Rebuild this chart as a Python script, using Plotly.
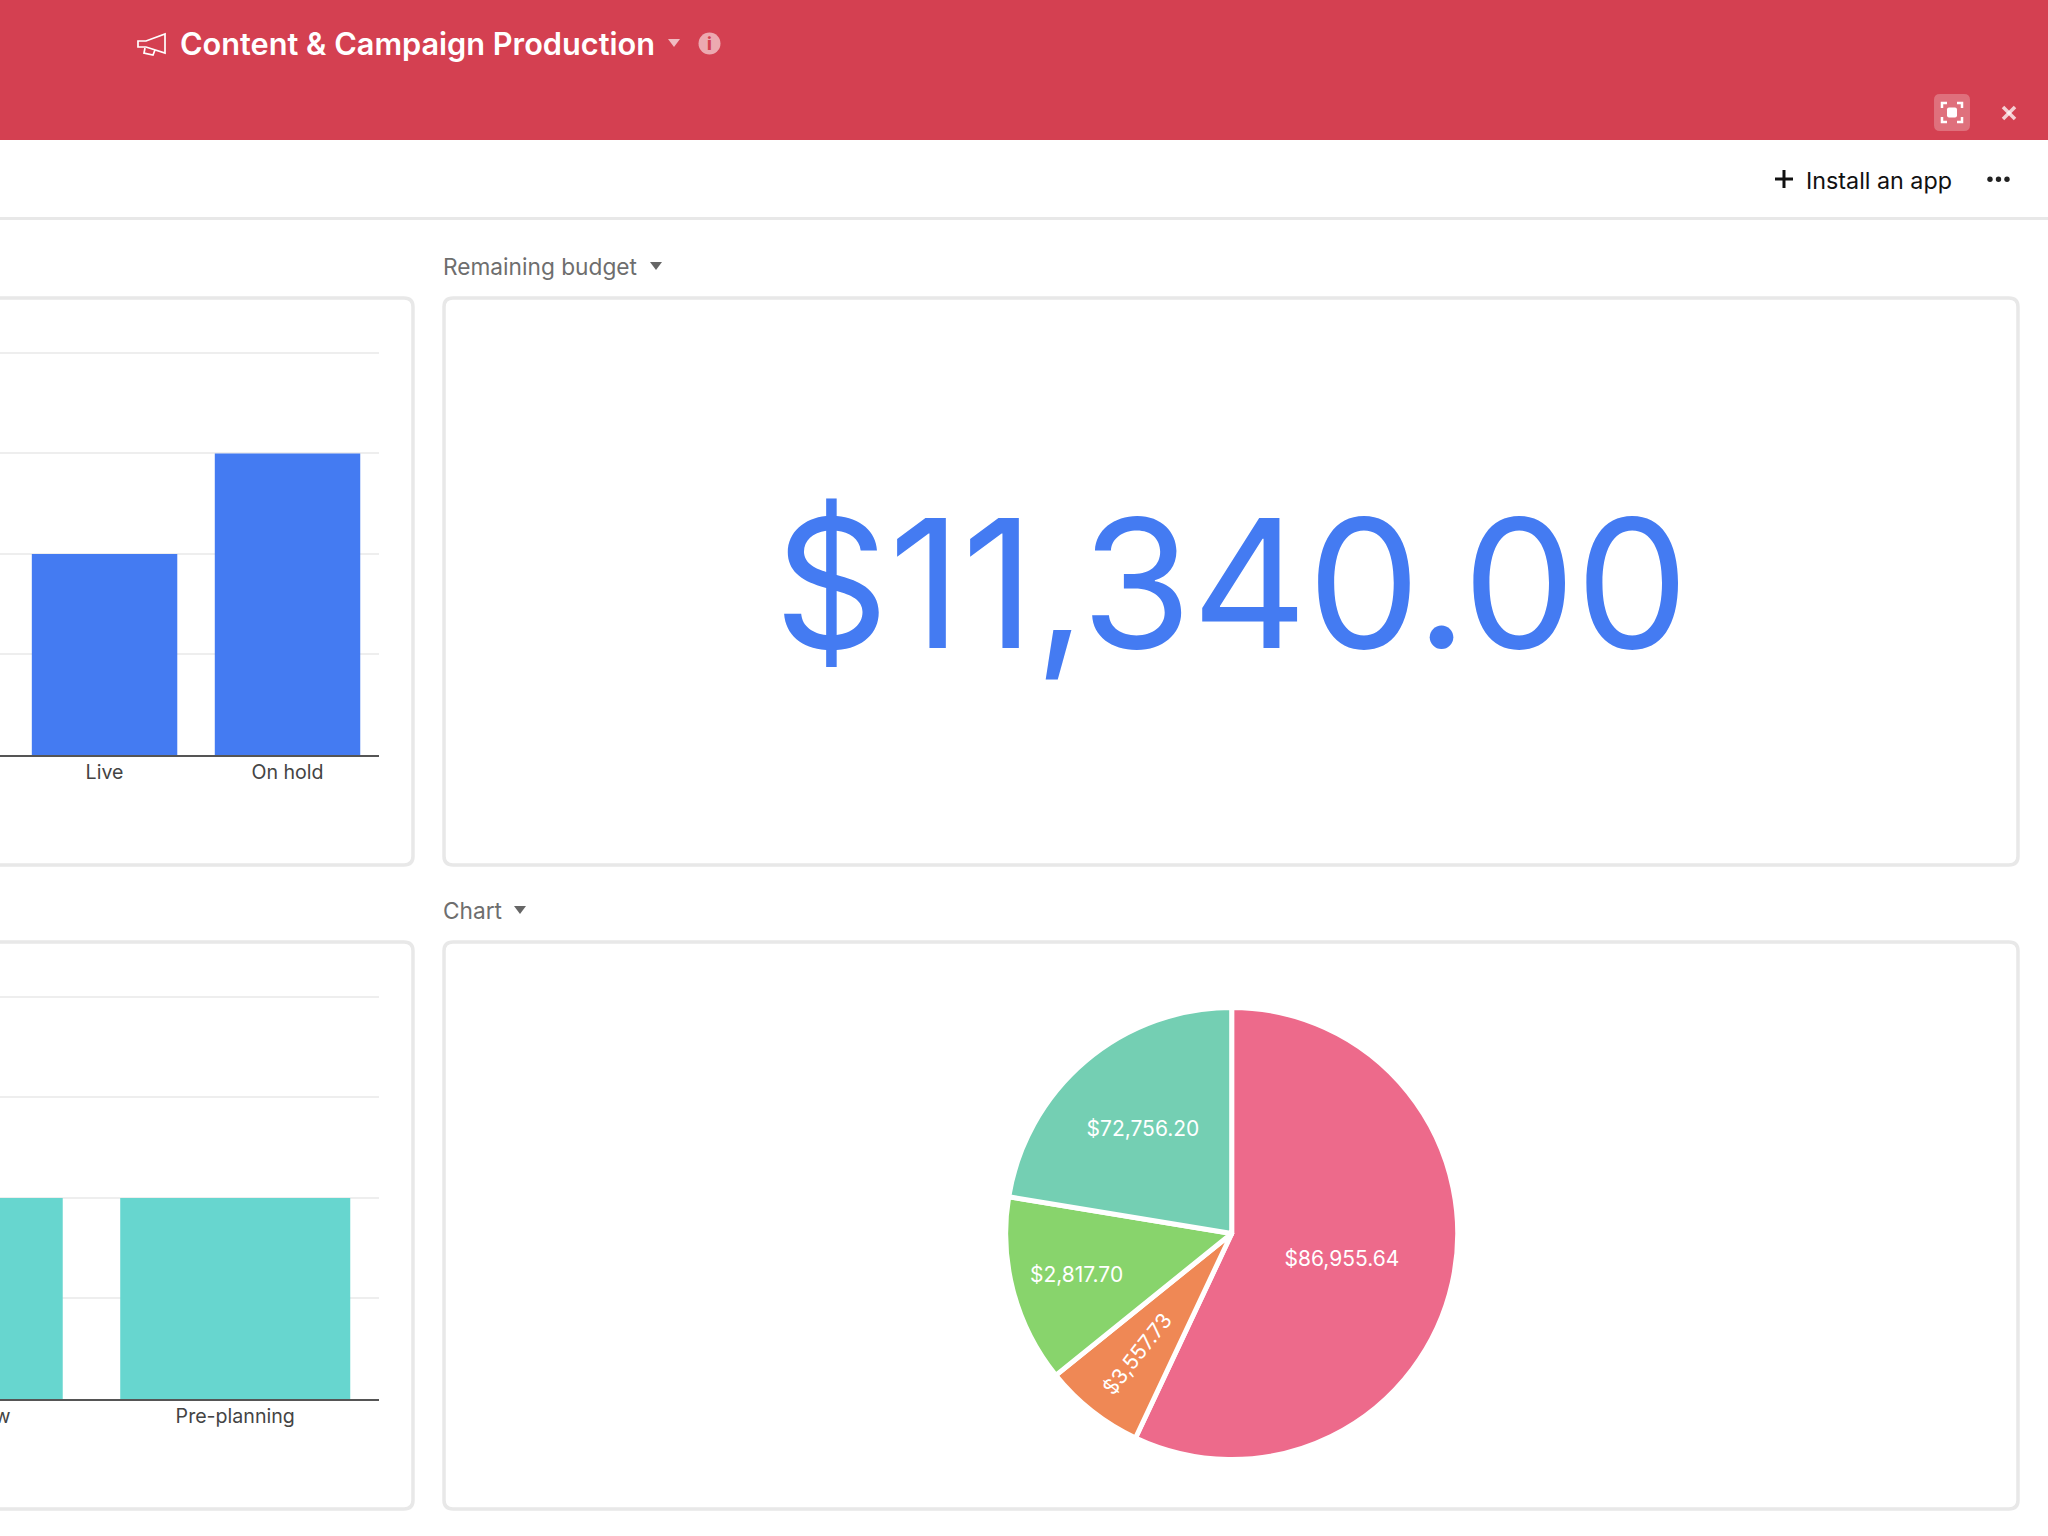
import plotly.graph_objects as go

# ---------- data ----------
status_categories = ["Live", "On hold"]
status_values = [2, 3]
phase_categories = ["Under review", "Pre-planning"]
phase_values = [2, 2]
remaining_budget = 11340.00
pie_labels = ["$86,955.64", "$3,557.73", "$2,817.70", "$72,756.20"]
pie_shares = [57.0, 7.2, 13.4, 22.4]
pie_colors = ["#ED6A8B", "#EF8855", "#88D46C", "#74CFB3"]
y_ticks = [0, 1, 2, 3, 4]

W, H = 2048, 1536
FONT = "Inter"
def px(x): return x / W
def py(y): return 1 - y / H

fig = go.Figure()

# ---------- bars ----------
fig.add_trace(go.Bar(x=[0, 1], y=status_values, marker=dict(color="#447BF2", line_width=0),
                     width=0.795, xaxis="x", yaxis="y", showlegend=False))
fig.add_trace(go.Bar(x=[0, 1], y=phase_values, marker=dict(color="#67D6CF", line_width=0),
                     width=0.8, xaxis="x2", yaxis="y2", showlegend=False))

# ---------- pie (horizontal labels, then radial label for the narrow slice) ----------
cx, cy, r = 1231.7, 1233.5, 226
dom = dict(x=[px(cx - r), px(cx + r)], y=[py(cy + r), py(cy - r)])
fig.add_trace(go.Pie(values=pie_shares, sort=False, direction="clockwise", rotation=0, domain=dom,
                     marker=dict(colors=pie_colors, line=dict(color="white", width=5)),
                     text=[t if i != 1 else "" for i, t in enumerate(pie_labels)],
                     textinfo="text", textposition="inside", insidetextorientation="horizontal",
                     textfont=dict(family=FONT, size=21, color="white"), showlegend=False))
fig.add_trace(go.Pie(values=pie_shares, sort=False, direction="clockwise", rotation=0, domain=dom,
                     marker=dict(colors=["rgba(0,0,0,0)"] * 4, line=dict(color="rgba(0,0,0,0)", width=0)),
                     text=[t if i == 1 else "" for i, t in enumerate(pie_labels)],
                     textinfo="text", textposition="inside", insidetextorientation="radial",
                     textfont=dict(family=FONT, size=21, color="white"), showlegend=False))

def xaxis(domain, rng, vals, text):
    return dict(domain=domain, range=rng, tickmode="array", tickvals=vals, ticktext=text,
                showgrid=False, zeroline=False, showline=True, linecolor="#555555", linewidth=2,
                ticks="", tickfont=dict(family=FONT, size=19.6, color="#444444"), fixedrange=True,
                ticklabelstandoff=-2)
TOP = 4.05
def yaxis(zero_px):
    top_px = zero_px - TOP * 100.5
    return dict(domain=[py(zero_px), py(top_px)], range=[0, TOP], tickvals=y_ticks, showticklabels=False,
                showgrid=True, gridcolor="#EEEEEE", gridwidth=2, zeroline=False, ticks="", fixedrange=True)

right = px(379)
fig.update_layout(
    width=W, height=H, autosize=False, margin=dict(l=0, r=0, t=0, b=0, pad=0),
    paper_bgcolor="white", plot_bgcolor="rgba(0,0,0,0)", bargap=0.2,
    xaxis=xaxis([0, right], [-80 / 140, 1.5], [0, 1], status_categories),
    yaxis=yaxis(755),
    xaxis2=xaxis([0, right], [40 / 220, 1.5], [1], [phase_categories[1]]),
    yaxis2=yaxis(1399) | dict(anchor="x2"),
)
fig.layout.xaxis2.anchor = "y2"

# ---------- page furniture ----------
shapes = []
def rect(x0, y0, x1, y1, fill, line=None, lw=0, layer="below"):
    shapes.append(dict(type="rect", xref="paper", yref="paper", x0=px(x0), x1=px(x1), y0=py(y0), y1=py(y1),
                       fillcolor=fill, line=dict(color=line or fill, width=lw), layer=layer))
def path(points, fill="rgba(0,0,0,0)", line="white", lw=2, close=True, layer="above"):
    d = "M " + " L ".join(f"{px(x):.5f} {py(y):.5f}" for x, y in points) + (" Z" if close else "")
    shapes.append(dict(type="path", xref="paper", yref="paper", path=d, fillcolor=fill,
                       line=dict(color=line, width=lw), layer=layer))
def rrect(x0, y0, x1, y1, rad, fill="white", line="#E8E8E8", lw=3.5, layer="below"):
    k = rad
    d = (f"M {px(x0+k):.5f} {py(y0):.5f} L {px(x1-k):.5f} {py(y0):.5f} "
         f"Q {px(x1):.5f} {py(y0):.5f} {px(x1):.5f} {py(y0+k):.5f} L {px(x1):.5f} {py(y1-k):.5f} "
         f"Q {px(x1):.5f} {py(y1):.5f} {px(x1-k):.5f} {py(y1):.5f} L {px(x0+k):.5f} {py(y1):.5f} "
         f"Q {px(x0):.5f} {py(y1):.5f} {px(x0):.5f} {py(y1-k):.5f} L {px(x0):.5f} {py(y0+k):.5f} "
         f"Q {px(x0):.5f} {py(y0):.5f} {px(x0+k):.5f} {py(y0):.5f} Z")
    shapes.append(dict(type="path", xref="paper", yref="paper", path=d, fillcolor=fill,
                       line=dict(color=line, width=lw), layer=layer))
RED = "#D44051"
rect(0, 0, W, 140, RED)
rect(0, 217, W, 220, "#E8E8E8")
rrect(-20, 298, 413, 865, 9)
rrect(444, 298, 2018, 865, 9)
rrect(-20, 942, 413, 1509, 9)
rrect(444, 942, 2018, 1509, 9)
# megaphone
path([(138, 41), (146, 41), (165, 34), (165, 53), (146, 47), (138, 47)], lw=1.7)
path([(145, 48), (144, 53), (153, 55), (155, 50)], lw=1.7, close=False)
# carets
path([(668, 39), (680, 39), (674, 47)], fill="rgba(255,255,255,0.65)", line="rgba(0,0,0,0)", lw=0)
path([(650, 262), (662, 262), (656, 270)], fill="#666666", line="rgba(0,0,0,0)", lw=0)
path([(514, 906), (526, 906), (520, 914)], fill="#666666", line="rgba(0,0,0,0)", lw=0)
# info dot
shapes.append(dict(type="circle", xref="paper", yref="paper", x0=px(698.5), x1=px(720.5), y0=py(54.5), y1=py(32.5),
                   fillcolor="rgba(255,255,255,0.55)", line_width=0))
# focus button
rrect(1934, 94, 1970, 131, 6, fill="rgba(255,255,255,0.25)", line="rgba(0,0,0,0)", lw=0, layer="above")
bx0, by0, bx1, by1, c = 1942, 103, 1962, 122, 5
for pts in ([(bx0, by0+c), (bx0, by0), (bx0+c, by0)], [(bx1-c, by0), (bx1, by0), (bx1, by0+c)],
            [(bx0, by1-c), (bx0, by1), (bx0+c, by1)], [(bx1-c, by1), (bx1, by1), (bx1, by1-c)]):
    path(pts, lw=2.5, close=False)
rrect(1947, 107.5, 1957, 117.5, 2, fill="white", line="white", lw=0, layer="above")
# close x
path([(2003, 107), (2015, 119)], line="rgba(255,255,255,0.75)", lw=3.5, close=False)
path([(2015, 107), (2003, 119)], line="rgba(255,255,255,0.75)", lw=3.5, close=False)
# plus
path([(1775, 179), (1793, 179)], line="#111111", lw=3, close=False)
path([(1784, 170), (1784, 188)], line="#111111", lw=3, close=False)
# dots
for dx in (1990, 1998.5, 2007):
    shapes.append(dict(type="circle", xref="paper", yref="paper", x0=px(dx-2.7), x1=px(dx+2.7), y0=py(182), y1=py(176.6),
                       fillcolor="#222222", line_width=0))
fig.update_layout(shapes=shapes)

# ---------- text ----------
def note(text, x, y, size, color, anchor="left", family=FONT, weight=None):
    f = dict(family=family, size=size, color=color)
    if weight:
        f["weight"] = weight
    return dict(text=text, xref="paper", yref="paper", x=px(x), y=py(y), xanchor=anchor, yanchor="middle",
                showarrow=False, align=anchor, font=f, borderpad=0, borderwidth=0)
ann = [
    note("Content &amp; Campaign Production", 180, 43.5, 30.7, "white", weight=600),
    note("i", 709.5, 43.5, 17, RED, anchor="center", weight=800),
    note("Install an app", 1806, 181, 23.3, "#111111"),
    note("Remaining budget", 443, 266, 22.7, "#6E6E6E"),
    note("Chart", 443, 910, 22.7, "#6E6E6E"),
    note(f"${remaining_budget:,.2f}", 1231.5, 583, 179, "#447BF2", anchor="center"),
    note(phase_categories[0], -52, 1416, 19.6, "#444444", anchor="center"),
]
fig.update_layout(annotations=ann)

fig.write_html("out.html", config={"displayModeBar": False},
               post_script="document.body.style.margin='0';document.documentElement.style.overflow='hidden';")
